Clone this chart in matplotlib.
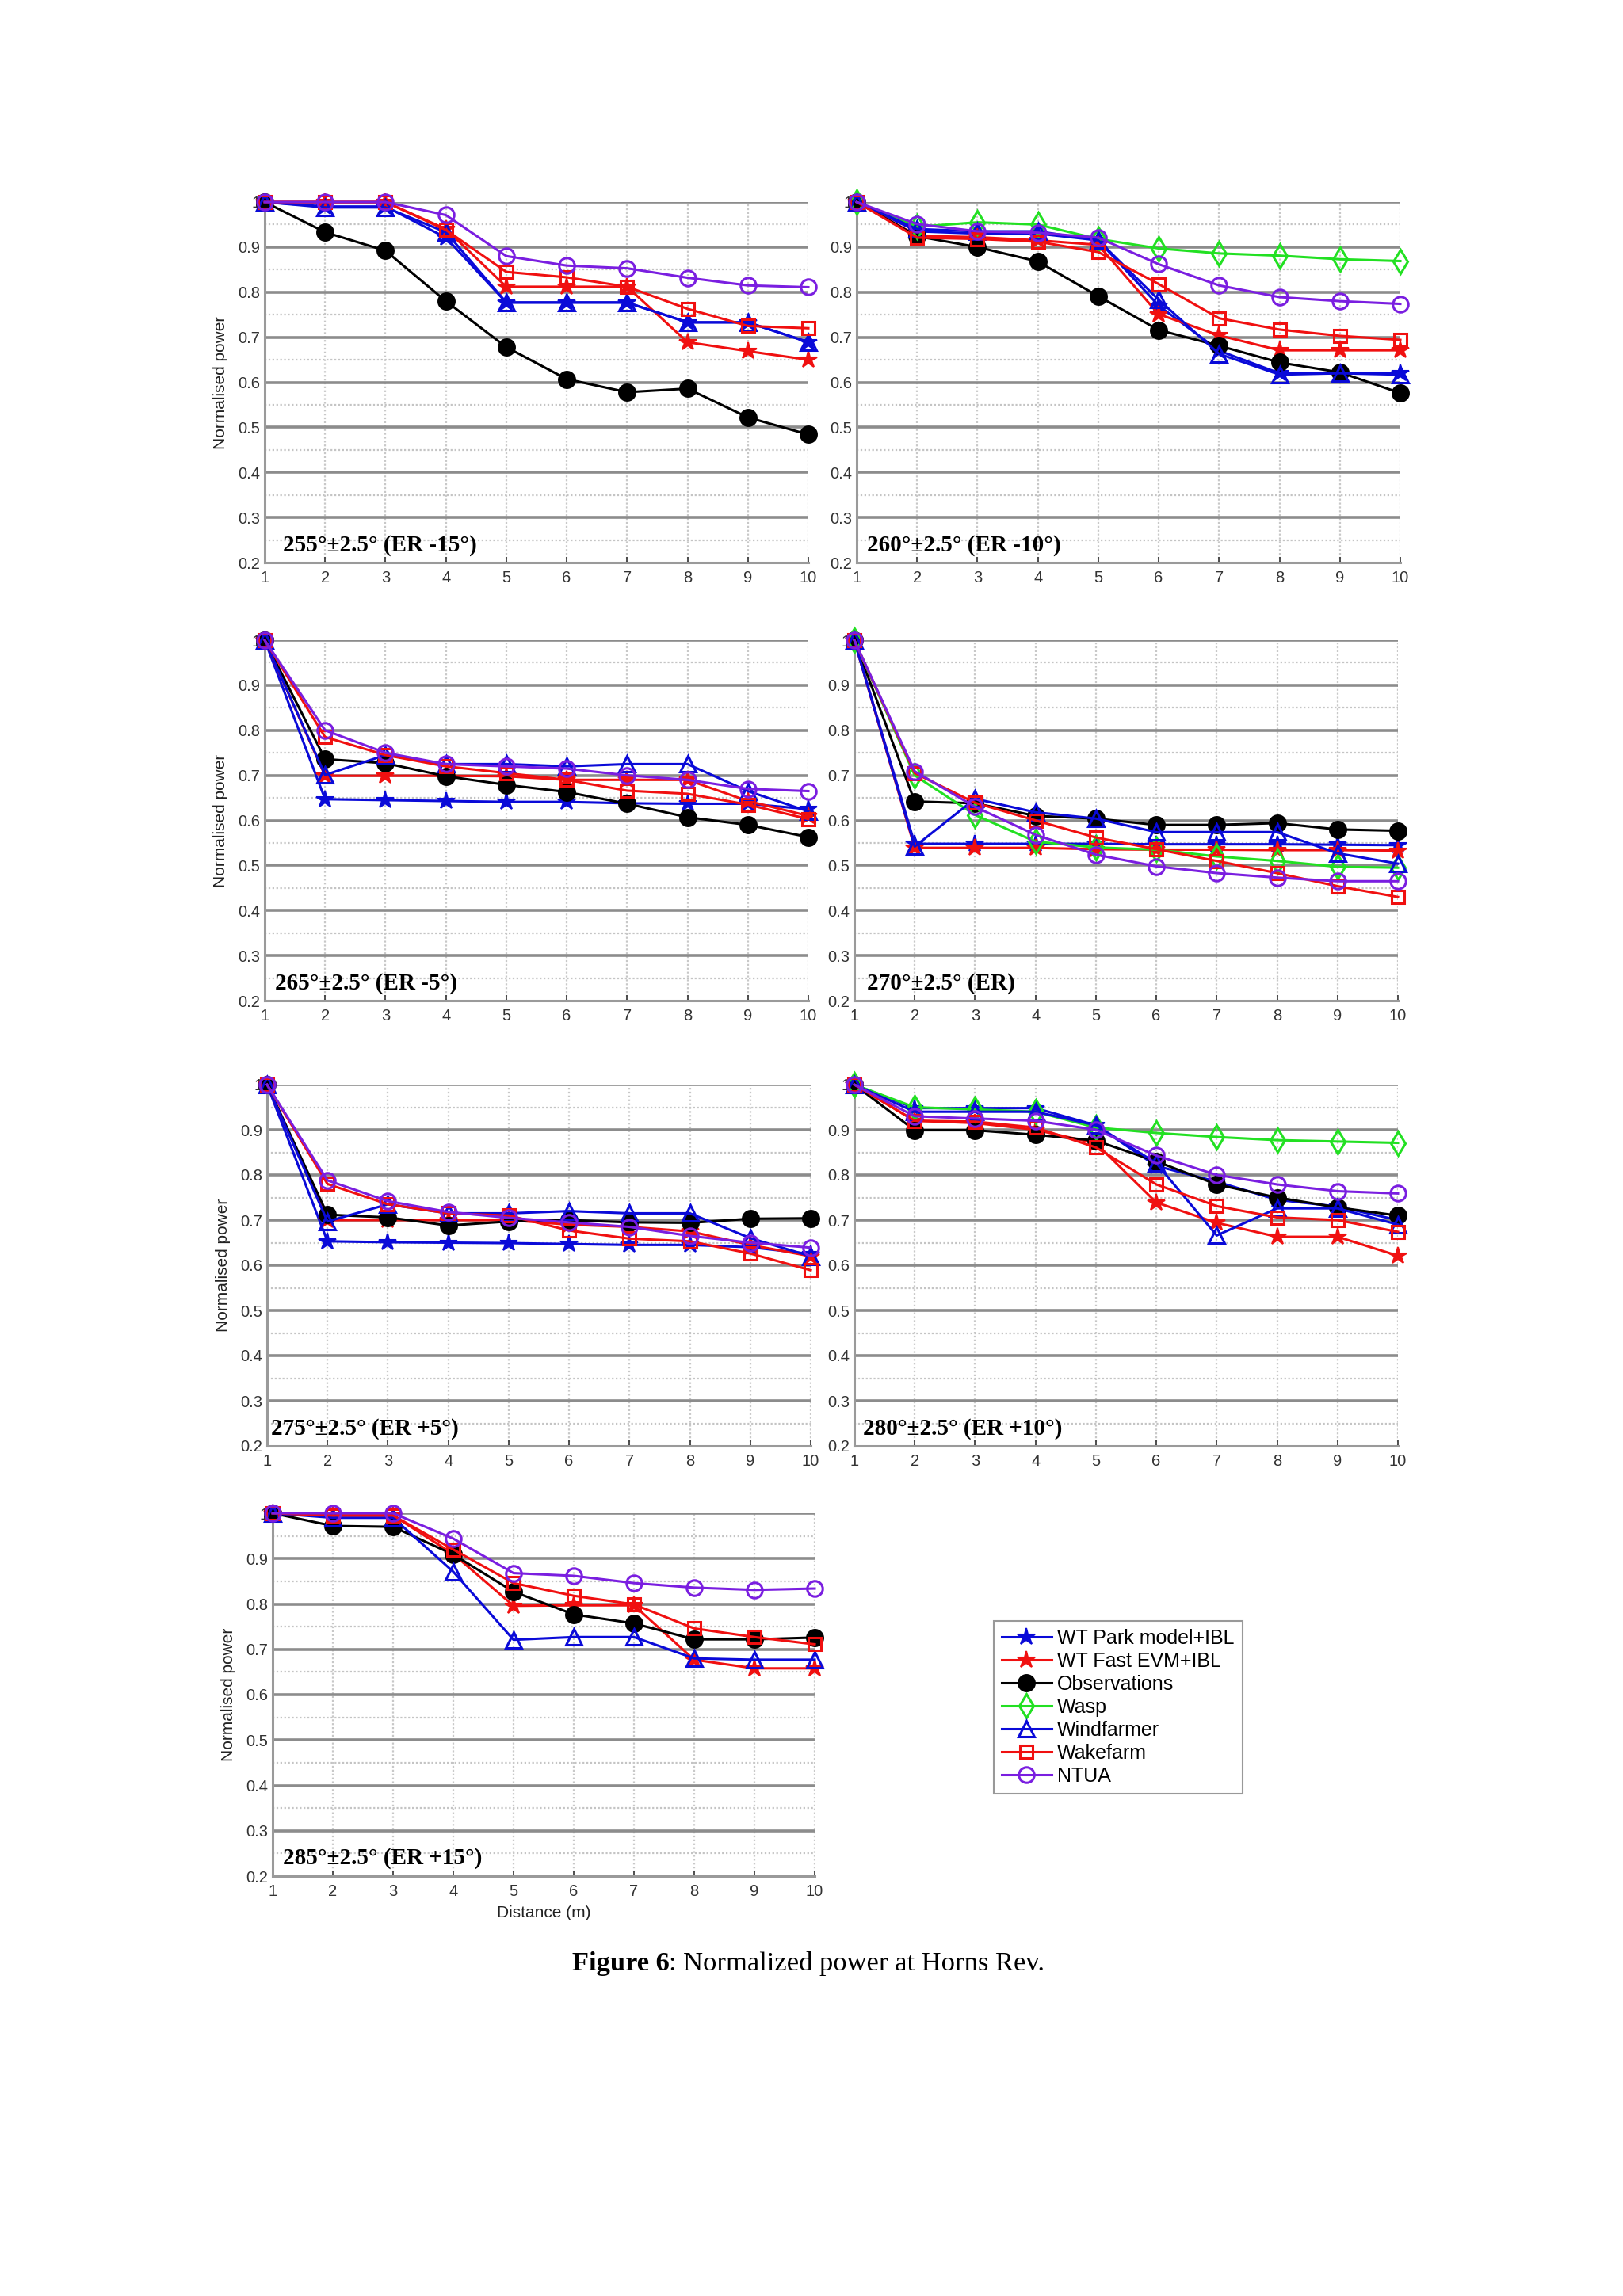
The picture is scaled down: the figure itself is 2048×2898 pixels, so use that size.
import numpy as np
import matplotlib
matplotlib.use("Agg")
import matplotlib.pyplot as plt
from matplotlib.lines import Line2D

plt.rcParams['font.family'] = ['Liberation Sans', 'DejaVu Sans']

# ---------------- data ----------------
distance = [1, 2, 3, 4, 5, 6, 7, 8, 9, 10]
x_ticks = [1, 2, 3, 4, 5, 6, 7, 8, 9, 10]
y_ticks = [0.2, 0.3, 0.4, 0.5, 0.6, 0.7, 0.8, 0.9, 1.0]
y_tick_labels = ['0.2', '0.3', '0.4', '0.5', '0.6', '0.7', '0.8', '0.9', '1']

series_names = ['WT Park model+IBL', 'WT Fast EVM+IBL', 'Observations', 'Wasp',
                'Windfarmer', 'Wakefarm', 'NTUA']

panel_titles = ['255°±2.5° (ER -15°)', '260°±2.5° (ER -10°)', '265°±2.5° (ER -5°)',
                '270°±2.5° (ER)', '275°±2.5° (ER +5°)', '280°±2.5° (ER +10°)',
                '285°±2.5° (ER +15°)']

# Panel 255
p255_park = [1.0, 0.99, 0.99, 0.921, 0.777, 0.777, 0.777, 0.733, 0.733, 0.689]
p255_fast = [1.0, 1.0, 1.0, 0.94, 0.812, 0.812, 0.812, 0.689, 0.669, 0.65]
p255_obs = [1.0, 0.933, 0.892, 0.78, 0.678, 0.607, 0.578, 0.586, 0.522, 0.484]
p255_wasp = None
p255_windfarmer = [1.0, 0.988, 0.988, 0.933, 0.777, 0.777, 0.777, 0.733, 0.733, 0.689]
p255_wakefarm = [1.0, 1.0, 1.0, 0.938, 0.845, 0.833, 0.812, 0.763, 0.725, 0.72]
p255_ntua = [1.0, 1.0, 1.0, 0.971, 0.88, 0.859, 0.853, 0.832, 0.815, 0.811]

# Panel 260
p260_park = [1.0, 0.935, 0.93, 0.93, 0.915, 0.77, 0.67, 0.62, 0.62, 0.62]
p260_fast = [1.0, 0.925, 0.922, 0.915, 0.905, 0.751, 0.704, 0.671, 0.671, 0.671]
p260_obs = [1.0, 0.924, 0.9, 0.868, 0.791, 0.716, 0.681, 0.644, 0.622, 0.576]
p260_wasp = [1.0, 0.945, 0.955, 0.95, 0.918, 0.897, 0.886, 0.881, 0.873, 0.869]
p260_windfarmer = [1.0, 0.94, 0.935, 0.935, 0.915, 0.783, 0.663, 0.617, 0.62, 0.617]
p260_wakefarm = [1.0, 0.921, 0.918, 0.912, 0.889, 0.818, 0.742, 0.717, 0.703, 0.694]
p260_ntua = [1.0, 0.951, 0.935, 0.932, 0.921, 0.862, 0.815, 0.789, 0.78, 0.774]

# Panel 265
p265_park = [1.0, 0.647, 0.645, 0.643, 0.641, 0.641, 0.638, 0.637, 0.637, 0.625]
p265_fast = [1.0, 0.699, 0.699, 0.699, 0.698, 0.69, 0.69, 0.69, 0.643, 0.61]
p265_obs = [1.0, 0.736, 0.727, 0.698, 0.679, 0.663, 0.637, 0.607, 0.59, 0.563]
p265_wasp = None
p265_windfarmer = [1.0, 0.701, 0.745, 0.725, 0.725, 0.72, 0.725, 0.725, 0.665, 0.62]
p265_wakefarm = [1.0, 0.785, 0.745, 0.72, 0.705, 0.69, 0.666, 0.659, 0.635, 0.603]
p265_ntua = [1.0, 0.8, 0.75, 0.725, 0.72, 0.715, 0.7, 0.69, 0.67, 0.665]

# Panel 270
p270_park = [1.0, 0.548, 0.548, 0.548, 0.548, 0.547, 0.547, 0.547, 0.546, 0.545]
p270_fast = [1.0, 0.539, 0.539, 0.539, 0.536, 0.535, 0.535, 0.534, 0.534, 0.533]
p270_obs = [1.0, 0.642, 0.638, 0.61, 0.604, 0.59, 0.59, 0.594, 0.58, 0.577]
p270_wasp = [1.0, 0.7, 0.612, 0.553, 0.54, 0.535, 0.52, 0.51, 0.497, 0.495]
p270_windfarmer = [1.0, 0.542, 0.648, 0.618, 0.604, 0.574, 0.574, 0.574, 0.527, 0.504]
p270_wakefarm = [1.0, 0.705, 0.639, 0.6, 0.562, 0.536, 0.51, 0.483, 0.454, 0.43]
p270_ntua = [1.0, 0.709, 0.63, 0.568, 0.524, 0.498, 0.483, 0.473, 0.465, 0.465]

# Panel 275
p275_park = [1.0, 0.653, 0.651, 0.65, 0.649, 0.647, 0.645, 0.645, 0.64, 0.625]
p275_fast = [1.0, 0.70, 0.70, 0.70, 0.70, 0.69, 0.685, 0.675, 0.645, 0.62]
p275_obs = [1.0, 0.712, 0.706, 0.688, 0.697, 0.70, 0.695, 0.694, 0.703, 0.704]
p275_wasp = None
p275_windfarmer = [1.0, 0.697, 0.735, 0.715, 0.715, 0.72, 0.715, 0.715, 0.66, 0.62]
p275_wakefarm = [1.0, 0.78, 0.735, 0.715, 0.71, 0.677, 0.659, 0.653, 0.626, 0.589]
p275_ntua = [1.0, 0.788, 0.742, 0.718, 0.705, 0.695, 0.685, 0.665, 0.65, 0.639]

# Panel 280
p280_park = [1.0, 0.948, 0.948, 0.948, 0.91, 0.82, 0.785, 0.745, 0.73, 0.70]
p280_fast = [1.0, 0.92, 0.915, 0.90, 0.87, 0.739, 0.694, 0.663, 0.663, 0.621]
p280_obs = [1.0, 0.899, 0.899, 0.889, 0.876, 0.83, 0.779, 0.75, 0.728, 0.71]
p280_wasp = [1.0, 0.95, 0.945, 0.94, 0.905, 0.893, 0.884, 0.877, 0.874, 0.871]
p280_windfarmer = [1.0, 0.94, 0.94, 0.94, 0.91, 0.826, 0.666, 0.726, 0.726, 0.69]
p280_wakefarm = [1.0, 0.92, 0.918, 0.905, 0.861, 0.779, 0.731, 0.706, 0.70, 0.674]
p280_ntua = [1.0, 0.93, 0.925, 0.92, 0.90, 0.843, 0.80, 0.779, 0.764, 0.759]

# Panel 285
p285_park = None
p285_fast = [1.0, 0.995, 0.995, 0.91, 0.796, 0.797, 0.797, 0.677, 0.658, 0.658]
p285_obs = [1.0, 0.972, 0.97, 0.909, 0.827, 0.777, 0.757, 0.722, 0.722, 0.726]
p285_wasp = None
p285_windfarmer = [1.0, 0.99, 0.99, 0.871, 0.721, 0.727, 0.727, 0.68, 0.677, 0.677]
p285_wakefarm = [1.0, 0.995, 0.995, 0.92, 0.846, 0.818, 0.799, 0.746, 0.727, 0.711]
p285_ntua = [1.0, 1.0, 1.0, 0.944, 0.868, 0.862, 0.846, 0.836, 0.831, 0.834]

panels = [
    [p255_park, p255_fast, p255_obs, p255_wasp, p255_windfarmer, p255_wakefarm, p255_ntua],
    [p260_park, p260_fast, p260_obs, p260_wasp, p260_windfarmer, p260_wakefarm, p260_ntua],
    [p265_park, p265_fast, p265_obs, p265_wasp, p265_windfarmer, p265_wakefarm, p265_ntua],
    [p270_park, p270_fast, p270_obs, p270_wasp, p270_windfarmer, p270_wakefarm, p270_ntua],
    [p275_park, p275_fast, p275_obs, p275_wasp, p275_windfarmer, p275_wakefarm, p275_ntua],
    [p280_park, p280_fast, p280_obs, p280_wasp, p280_windfarmer, p280_wakefarm, p280_ntua],
    [p285_park, p285_fast, p285_obs, p285_wasp, p285_windfarmer, p285_wakefarm, p285_ntua],
]

# ---------------- styles ----------------
BLUE = '#0a0ad8'
RED = '#f01010'
GREEN = '#22e022'
PURPLE = '#7a1ee0'
styles = [
    dict(color=BLUE, marker='*', ms=16, mfc=BLUE, mec=BLUE, mew=1.5),
    dict(color=RED, marker='*', ms=16, mfc=RED, mec=RED, mew=1.5),
    dict(color='black', marker='o', ms=15, mfc='black', mec='black', mew=1.5),
    dict(color=GREEN, marker='d', ms=15, mfc='none', mec=GREEN, mew=2.2),
    dict(color=BLUE, marker='^', ms=14, mfc='none', mec=BLUE, mew=2.2),
    dict(color=RED, marker='s', ms=12, mfc='none', mec=RED, mew=2.2),
    dict(color=PURPLE, marker='o', ms=14, mfc='none', mec=PURPLE, mew=2.2),
]
draw_order = [0, 1, 2, 3, 4, 5, 6]

W, H = 2048, 2898
fig = plt.figure(figsize=(W / 100, H / 100), dpi=100)
fig.patch.set_facecolor('white')

# axes boxes in pixels: left, right, top, bottom
boxes_px = [
    (334, 1020, 255, 710), (1081, 1767, 255, 710),
    (334, 1020, 808, 1263), (1078, 1764, 808, 1263),
    (337, 1023, 1369, 1825), (1078, 1764, 1369, 1825),
    (344, 1028, 1910, 2368),
]
title_offsets_px = [23, 13, 13, 16, 5, 11, 13]

for i, (l, r, t, b) in enumerate(boxes_px):
    ax = fig.add_axes([l / W, 1 - b / H, (r - l) / W, (b - t) / H])
    ax.set_xlim(1, 10)
    ax.set_ylim(0.2, 1.0)
    # grid
    for yv in np.arange(0.25, 1.0, 0.1):
        ax.axhline(yv, color='#c4c4c4', lw=1.6, ls=(0, (1, 1.2)), zorder=0)
    for yv in y_ticks[1:]:
        ax.axhline(yv, color='#8c8c8c', lw=2.6, zorder=0.5)
    for xv in x_ticks[1:]:
        ax.axvline(xv, color='#c8c8c8', lw=1.6, ls=(0, (1, 1.2)), zorder=0)
    for s in ['top', 'right']:
        ax.spines[s].set_visible(False)
    for s in ['left', 'bottom']:
        ax.spines[s].set_color('#9a9a9a')
        ax.spines[s].set_linewidth(2.2)
    ax.set_xticks(x_ticks)
    ax.set_xticklabels([str(v) for v in x_ticks])
    ax.set_yticks(y_ticks)
    ax.set_yticklabels(y_tick_labels)
    ax.tick_params(axis='both', labelsize=14.5, colors='#333333', direction='in',
                   length=5, width=1.2, pad=4)
    ax.tick_params(axis='x', pad=7)
    ax.tick_params(axis='y', length=0)

    for k in draw_order:
        vals = panels[i][k]
        if vals is None:
            continue
        st = styles[k]
        ax.plot(distance, vals, color=st['color'], lw=2.2, marker=st['marker'],
                ms=st['ms'], mfc=st['mfc'], mec=st['mec'], mew=st['mew'],
                clip_on=False, zorder=3 + k)

    dx = title_offsets_px[i] / (r - l) * 9
    ax.text(1 + dx, 0.226, panel_titles[i], fontsize=21, fontweight='bold',
            family=['Liberation Serif', 'DejaVu Serif'], ha='left', va='baseline',
            zorder=20)

    if i % 2 == 0:
        ax.set_ylabel('Normalised power', fontsize=15, color='#222222', labelpad=9)
    if i == 6:
        ax.set_xlabel('Distance (m)', fontsize=15, color='#222222', labelpad=6)

# legend
handles = []
for k, name in enumerate(series_names):
    st = styles[k]
    handles.append(Line2D([0], [0], color=st['color'], lw=2.2, marker=st['marker'],
                          ms=st['ms'], mfc=st['mfc'], mec=st['mec'], mew=st['mew']))
leg = fig.legend(handles, series_names, loc='upper left',
                 bbox_to_anchor=(1254 / W, 1 - 2046 / H), fontsize=18,
                 handlelength=2.5, handletextpad=0.3, labelspacing=0.2,
                 borderpad=0.4, borderaxespad=0, frameon=True, fancybox=False)
leg.get_frame().set_edgecolor('#808080')
leg.get_frame().set_linewidth(1.5)

# caption
cap_y = 1 - 2478 / H
t1 = fig.text(0, cap_y, 'Figure 6', fontsize=24.8, fontweight='bold',
              family=['Liberation Serif'], ha='left', va='center')
t2 = fig.text(0, cap_y, ': Normalized power at Horns Rev.', fontsize=24.8,
              family=['Liberation Serif'], ha='left', va='center')
fig.canvas.draw()
r = fig.canvas.get_renderer()
w1 = t1.get_window_extent(r).width
w2 = t2.get_window_extent(r).width
start = 1020 - (w1 + w2) / 2
t1.set_x(start / W)
t2.set_x((start + w1) / W)

fig.savefig('out.png', dpi=100, facecolor='white')
